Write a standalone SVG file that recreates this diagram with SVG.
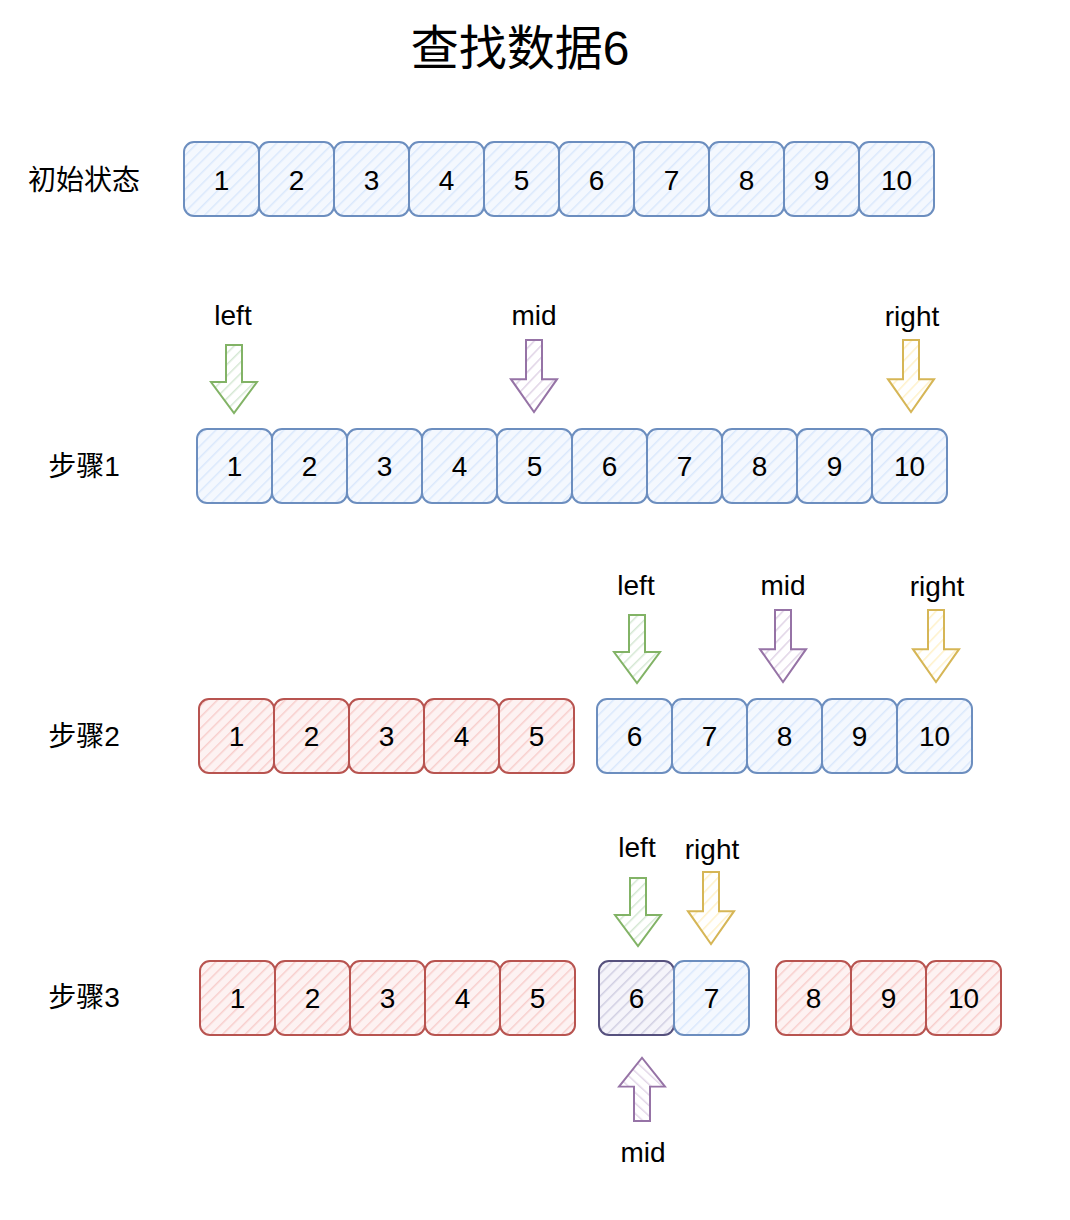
<svg xmlns="http://www.w3.org/2000/svg" width="1070" height="1220" viewBox="0 0 1070 1220">
<defs>
<pattern id="hb" width="8" height="8" patternUnits="userSpaceOnUse" patternTransform="rotate(45)"><rect width="8" height="8" fill="#f4f8fe"/><line x1="0" y1="0" x2="0" y2="8" stroke="#dae8fc" stroke-width="3"/></pattern>
<pattern id="hr" width="8" height="8" patternUnits="userSpaceOnUse" patternTransform="rotate(45)"><rect width="8" height="8" fill="#fdf2f2"/><line x1="0" y1="0" x2="0" y2="8" stroke="#f8cecc" stroke-width="3"/></pattern>
<pattern id="hp" width="8" height="8" patternUnits="userSpaceOnUse" patternTransform="rotate(45)"><rect width="8" height="8" fill="#f5f4fa"/><line x1="0" y1="0" x2="0" y2="8" stroke="#d0cee2" stroke-width="3"/></pattern>
<pattern id="hg" width="8" height="8" patternUnits="userSpaceOnUse" patternTransform="rotate(45)"><rect width="8" height="8" fill="#fff"/><line x1="0" y1="0" x2="0" y2="8" stroke="#d5e8d4" stroke-width="3"/></pattern>
<pattern id="hv" width="8" height="8" patternUnits="userSpaceOnUse" patternTransform="rotate(45)"><rect width="8" height="8" fill="#fff"/><line x1="0" y1="0" x2="0" y2="8" stroke="#e1d5e7" stroke-width="3"/></pattern>
<pattern id="hy" width="8" height="8" patternUnits="userSpaceOnUse" patternTransform="rotate(45)"><rect width="8" height="8" fill="#fff"/><line x1="0" y1="0" x2="0" y2="8" stroke="#fff2cc" stroke-width="3"/></pattern>
<path id="ad" d="M-8,0 H8 V37 H23 L0,68 L-23,37 H-8 Z"/>
</defs>
<style>
text{font-family:"Liberation Sans","Noto Sans CJK SC",sans-serif;fill:#000;text-anchor:middle;dominant-baseline:central}
.n{font-size:28px}
.l{font-size:28px}
.b rect{fill:url(#hb);stroke:#6c8ebf;stroke-width:2}
.r rect{fill:url(#hr);stroke:#b85450;stroke-width:2}
.p rect{fill:url(#hp);stroke:#56517e;stroke-width:2}
.ag{fill:url(#hg);stroke:#82b366;stroke-width:2}
.av{fill:url(#hv);stroke:#9673a6;stroke-width:2}
.ay{fill:url(#hy);stroke:#d6b656;stroke-width:2}
</style>
<rect width="1070" height="1220" fill="#fff"/>
<text x="520" y="48" style="font-size:48px">查找数据6</text>
<g id="labels">
<text class="l" x="84" y="180">初始状态</text>
<text class="l" x="84" y="466">步骤1</text>
<text class="l" x="84" y="736">步骤2</text>
<text class="l" x="84" y="997">步骤3</text>
<text class="l" x="233" y="315">left</text>
<text class="l" x="534" y="315">mid</text>
<text class="l" x="912" y="316">right</text>
<text class="l" x="636" y="585">left</text>
<text class="l" x="783" y="585">mid</text>
<text class="l" x="937" y="586">right</text>
<text class="l" x="637" y="847">left</text>
<text class="l" x="712" y="849">right</text>
<text class="l" x="643" y="1152">mid</text>
</g>
<g id="row0" class="b">
<g id="r0-1"><rect x="184" y="142" width="75" height="74" rx="10"/><text class="n" x="221.5" y="180">1</text></g>
<g id="r0-2"><rect x="259" y="142" width="75" height="74" rx="10"/><text class="n" x="296.5" y="180">2</text></g>
<g id="r0-3"><rect x="334" y="142" width="75" height="74" rx="10"/><text class="n" x="371.5" y="180">3</text></g>
<g id="r0-4"><rect x="409" y="142" width="75" height="74" rx="10"/><text class="n" x="446.5" y="180">4</text></g>
<g id="r0-5"><rect x="484" y="142" width="75" height="74" rx="10"/><text class="n" x="521.5" y="180">5</text></g>
<g id="r0-6"><rect x="559" y="142" width="75" height="74" rx="10"/><text class="n" x="596.5" y="180">6</text></g>
<g id="r0-7"><rect x="634" y="142" width="75" height="74" rx="10"/><text class="n" x="671.5" y="180">7</text></g>
<g id="r0-8"><rect x="709" y="142" width="75" height="74" rx="10"/><text class="n" x="746.5" y="180">8</text></g>
<g id="r0-9"><rect x="784" y="142" width="75" height="74" rx="10"/><text class="n" x="821.5" y="180">9</text></g>
<g id="r0-10"><rect x="859" y="142" width="75" height="74" rx="10"/><text class="n" x="896.5" y="180">10</text></g>
</g>
<g id="row1" class="b">
<g id="r1-1"><rect x="197" y="429" width="75" height="74" rx="10"/><text class="n" x="234.5" y="466">1</text></g>
<g id="r1-2"><rect x="272" y="429" width="75" height="74" rx="10"/><text class="n" x="309.5" y="466">2</text></g>
<g id="r1-3"><rect x="347" y="429" width="75" height="74" rx="10"/><text class="n" x="384.5" y="466">3</text></g>
<g id="r1-4"><rect x="422" y="429" width="75" height="74" rx="10"/><text class="n" x="459.5" y="466">4</text></g>
<g id="r1-5"><rect x="497" y="429" width="75" height="74" rx="10"/><text class="n" x="534.5" y="466">5</text></g>
<g id="r1-6"><rect x="572" y="429" width="75" height="74" rx="10"/><text class="n" x="609.5" y="466">6</text></g>
<g id="r1-7"><rect x="647" y="429" width="75" height="74" rx="10"/><text class="n" x="684.5" y="466">7</text></g>
<g id="r1-8"><rect x="722" y="429" width="75" height="74" rx="10"/><text class="n" x="759.5" y="466">8</text></g>
<g id="r1-9"><rect x="797" y="429" width="75" height="74" rx="10"/><text class="n" x="834.5" y="466">9</text></g>
<g id="r1-10"><rect x="872" y="429" width="75" height="74" rx="10"/><text class="n" x="909.5" y="466">10</text></g>
</g>
<g id="row2">
<g class="r">
<g id="r2-1"><rect x="199" y="699" width="75" height="74" rx="10"/><text class="n" x="236.5" y="736">1</text></g>
<g id="r2-2"><rect x="274" y="699" width="75" height="74" rx="10"/><text class="n" x="311.5" y="736">2</text></g>
<g id="r2-3"><rect x="349" y="699" width="75" height="74" rx="10"/><text class="n" x="386.5" y="736">3</text></g>
<g id="r2-4"><rect x="424" y="699" width="75" height="74" rx="10"/><text class="n" x="461.5" y="736">4</text></g>
<g id="r2-5"><rect x="499" y="699" width="75" height="74" rx="10"/><text class="n" x="536.5" y="736">5</text></g>
</g>
<g class="b">
<g id="r2-6"><rect x="597" y="699" width="75" height="74" rx="10"/><text class="n" x="634.5" y="736">6</text></g>
<g id="r2-7"><rect x="672" y="699" width="75" height="74" rx="10"/><text class="n" x="709.5" y="736">7</text></g>
<g id="r2-8"><rect x="747" y="699" width="75" height="74" rx="10"/><text class="n" x="784.5" y="736">8</text></g>
<g id="r2-9"><rect x="822" y="699" width="75" height="74" rx="10"/><text class="n" x="859.5" y="736">9</text></g>
<g id="r2-10"><rect x="897" y="699" width="75" height="74" rx="10"/><text class="n" x="934.5" y="736">10</text></g>
</g>
</g>
<g id="row3">
<g class="r">
<g id="r3-1"><rect x="200" y="961" width="75" height="74" rx="10"/><text class="n" x="237.5" y="998">1</text></g>
<g id="r3-2"><rect x="275" y="961" width="75" height="74" rx="10"/><text class="n" x="312.5" y="998">2</text></g>
<g id="r3-3"><rect x="350" y="961" width="75" height="74" rx="10"/><text class="n" x="387.5" y="998">3</text></g>
<g id="r3-4"><rect x="425" y="961" width="75" height="74" rx="10"/><text class="n" x="462.5" y="998">4</text></g>
<g id="r3-5"><rect x="500" y="961" width="75" height="74" rx="10"/><text class="n" x="537.5" y="998">5</text></g>
<g id="r3-8"><rect x="776" y="961" width="75" height="74" rx="10"/><text class="n" x="813.5" y="998">8</text></g>
<g id="r3-9"><rect x="851" y="961" width="75" height="74" rx="10"/><text class="n" x="888.5" y="998">9</text></g>
<g id="r3-10"><rect x="926" y="961" width="75" height="74" rx="10"/><text class="n" x="963.5" y="998">10</text></g>
</g>
<g id="r3-6" class="p"><rect x="599" y="961" width="75" height="74" rx="10"/><text class="n" x="636.5" y="998">6</text></g>
<g id="r3-7" class="b"><rect x="674" y="961" width="75" height="74" rx="10"/><text class="n" x="711.5" y="998">7</text></g>
</g>
<g id="connectors">
<use href="#ad" class="ag" transform="translate(234,345)"/>
<use href="#ad" class="av" transform="translate(534,340) scale(1,1.06)"/>
<use href="#ad" class="ay" transform="translate(911,340) scale(1,1.06)"/>
<use href="#ad" class="ag" transform="translate(637,615)"/>
<use href="#ad" class="av" transform="translate(783,610) scale(1,1.06)"/>
<use href="#ad" class="ay" transform="translate(936,610) scale(1,1.06)"/>
<use href="#ad" class="ag" transform="translate(638,878)"/>
<use href="#ad" class="ay" transform="translate(711,872) scale(1,1.06)"/>
<use href="#ad" class="av" transform="translate(642,1121) scale(1,-0.93)"/>
</g>
</svg>
